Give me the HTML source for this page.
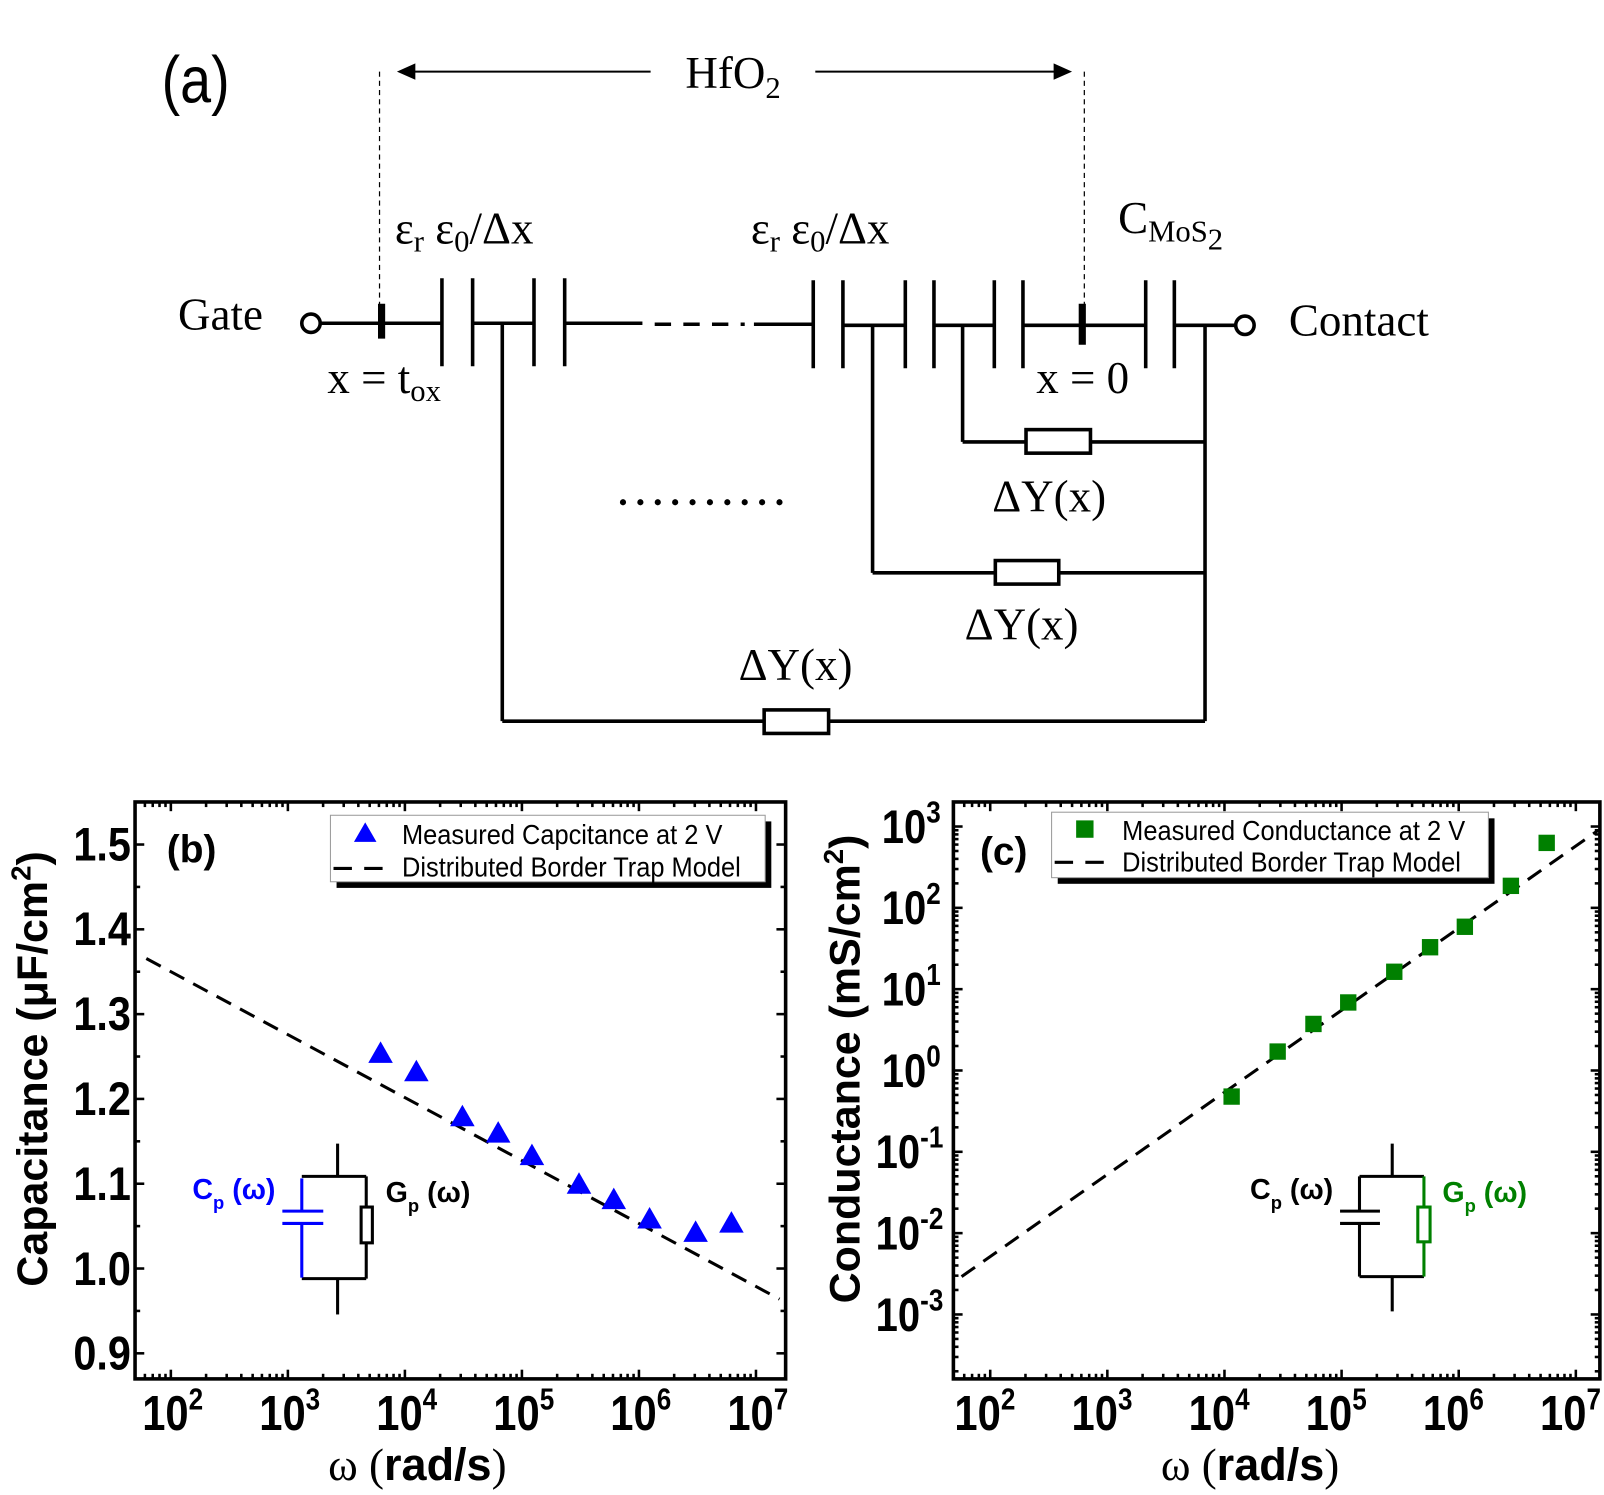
<!DOCTYPE html>
<html><head><meta charset="utf-8"><style>
html,body{margin:0;padding:0;background:#fff;}
svg{display:block;}
.serif{font-family:"Liberation Serif",serif;}
.sans{font-family:"Liberation Sans",sans-serif;}
</style></head><body>
<svg id="s" width="1604" height="1495" viewBox="0 0 1568 1461.5" xmlns="http://www.w3.org/2000/svg">
<rect width="1568" height="1462" fill="#fff"/>
<!-- Panel (a) -->
<text transform="translate(158,100) scale(0.85,1)" class="sans" font-size="64">(a)</text>
<g stroke="#000" fill="none">
<line x1="371" y1="70" x2="371" y2="298" stroke-width="1.2" stroke-dasharray="5,4"/>
<line x1="1060" y1="70" x2="1060" y2="300" stroke-width="1.2" stroke-dasharray="5,4"/>
<line x1="395" y1="70" x2="636" y2="70" stroke-width="2"/>
<line x1="797" y1="70" x2="1040" y2="70" stroke-width="2"/>
</g>
<polygon points="388,70 406,62 406,78" fill="#000"/>
<polygon points="1048,70 1030,62 1030,78" fill="#000"/>
<text x="670" y="86" class="serif" font-size="44">HfO<tspan font-size="30" dy="10">2</tspan></text>

<g stroke="#000" stroke-width="3.5" fill="none">
<circle cx="304" cy="316" r="9"/>
<circle cx="1217" cy="318" r="9"/>
<line x1="313" y1="316" x2="432" y2="316"/>
<line x1="373" y1="297" x2="373" y2="331" stroke-width="7"/>
<line x1="432" y1="272" x2="432" y2="358"/><line x1="462" y1="272" x2="462" y2="358"/>
<line x1="462" y1="316" x2="522" y2="316"/>
<line x1="522" y1="272" x2="522" y2="358"/><line x1="552" y1="272" x2="552" y2="358"/>
<line x1="552" y1="316" x2="628" y2="316"/>
<line x1="640" y1="317" x2="728" y2="317" stroke-dasharray="16,12"/>
<line x1="737" y1="317" x2="795" y2="317"/>
<line x1="795" y1="274" x2="795" y2="360"/><line x1="824" y1="274" x2="824" y2="360"/>
<line x1="824" y1="318" x2="885" y2="318"/>
<line x1="885" y1="274" x2="885" y2="360"/><line x1="913" y1="274" x2="913" y2="360"/>
<line x1="913" y1="318" x2="972" y2="318"/>
<line x1="972" y1="274" x2="972" y2="360"/><line x1="1000" y1="274" x2="1000" y2="360"/>
<line x1="1000" y1="318" x2="1120" y2="318"/>
<line x1="1058" y1="297" x2="1058" y2="337" stroke-width="7"/>
<line x1="1120" y1="274" x2="1120" y2="360"/><line x1="1148" y1="274" x2="1148" y2="360"/>
<line x1="1148" y1="318" x2="1208" y2="318"/>
<line x1="491" y1="316" x2="491" y2="705"/>
<line x1="853" y1="318" x2="853" y2="560"/>
<line x1="941" y1="318" x2="941" y2="432"/>
<line x1="1178" y1="318" x2="1178" y2="705"/>
<line x1="941" y1="432" x2="1003" y2="432"/><line x1="1066" y1="432" x2="1178" y2="432"/>
<rect x="1003" y="420" width="63" height="23"/>
<line x1="853" y1="560" x2="973" y2="560"/><line x1="1035" y1="560" x2="1178" y2="560"/>
<rect x="973" y="548" width="62" height="23"/>
<line x1="491" y1="705" x2="747" y2="705"/><line x1="810" y1="705" x2="1178" y2="705"/>
<rect x="747" y="694" width="63" height="23"/>
</g>
<g fill="#000">
<circle cx="609" cy="491" r="3"/><circle cx="626" cy="491" r="3"/><circle cx="643" cy="491" r="3"/><circle cx="660" cy="491" r="3"/><circle cx="677" cy="491" r="3"/><circle cx="694" cy="491" r="3"/><circle cx="711" cy="491" r="3"/><circle cx="728" cy="491" r="3"/><circle cx="745" cy="491" r="3"/><circle cx="762" cy="491" r="3"/>
</g>
<g class="serif" font-size="44" fill="#000">
<text x="174" y="322">Gate</text>
<text x="1260" y="328">Contact</text>
<text x="320" y="384">x = t<tspan font-size="30" dy="8">ox</tspan></text>
<text x="1013" y="384">x = 0</text>
<text x="386" y="238">ε<tspan font-size="30" dy="8">r</tspan><tspan dy="-8"> ε</tspan><tspan font-size="30" dy="8">0</tspan><tspan dy="-8">/Δx</tspan></text>
<text x="734" y="238">ε<tspan font-size="30" dy="8">r</tspan><tspan dy="-8"> ε</tspan><tspan font-size="30" dy="8">0</tspan><tspan dy="-8">/Δx</tspan></text>
<text x="1093" y="228">C<tspan font-size="30" dy="8">MoS</tspan><tspan font-size="30" dy="8">2</tspan></text>
<text x="970" y="500">ΔY(x)</text>
<text x="943" y="625">ΔY(x)</text>
<text x="722" y="665">ΔY(x)</text>
</g>

<!-- Panel b -->
<g id="pb"></g>
<rect x="132" y="784" width="636" height="564" fill="none" stroke="#000" stroke-width="3.5"/>
<line x1="143" y1="937" x2="762" y2="1270" stroke="#000" stroke-width="3" stroke-dasharray="16,10"/>
<g fill="#0000ff" id="tri"></g>
<text x="163" y="843" class="sans" font-size="38" font-weight="bold">(b)</text>
<rect x="329" y="803" width="425" height="65" fill="#000"/>
<rect x="323" y="797" width="425" height="65" fill="#fff" stroke="#999" stroke-width="1"/>
<polygon points="357,804 346,823 368,823" fill="#0000ff"/>
<line x1="326" y1="849" x2="380" y2="849" stroke="#000" stroke-width="3" stroke-dasharray="18,12"/>
<text transform="translate(393,825) scale(0.92,1)" class="sans" font-size="27">Measured Capcitance at 2 V</text>
<text transform="translate(393,857) scale(0.92,1)" class="sans" font-size="27">Distributed Border Trap Model</text>
<g class="sans" font-size="46" font-weight="bold" text-anchor="end">
<text transform="translate(128,1339) scale(0.88,1)">0.9</text><text transform="translate(128,1256) scale(0.88,1)">1.0</text><text transform="translate(128,1173) scale(0.88,1)">1.1</text><text transform="translate(128,1090) scale(0.88,1)">1.2</text><text transform="translate(128,1007) scale(0.88,1)">1.3</text><text transform="translate(128,924) scale(0.88,1)">1.4</text><text transform="translate(128,841) scale(0.88,1)">1.5</text>
</g>
<text transform="translate(46,1045) rotate(-90)" text-anchor="middle" class="sans" font-size="42" font-weight="bold">Capacitance (μF/cm<tspan font-size="27" dy="-16">2</tspan><tspan dy="16">)</tspan></text>
<g id="xlb" class="sans" font-size="48" font-weight="bold"></g>
<text x="408" y="1447" text-anchor="middle" font-size="44" font-weight="bold"><tspan class="serif" font-weight="normal">ω (</tspan><tspan class="sans">rad/s</tspan><tspan class="serif" font-weight="normal">)</tspan></text>
<!-- inset b -->
<g stroke="#000" stroke-width="3" fill="none">
<line x1="330" y1="1118" x2="330" y2="1150"/><line x1="295" y1="1150" x2="358" y2="1150"/>
<line x1="358" y1="1150" x2="358" y2="1180"/><rect x="353" y="1180" width="11" height="35"/><line x1="358" y1="1215" x2="358" y2="1250"/>
<line x1="295" y1="1250" x2="358" y2="1250"/><line x1="330" y1="1250" x2="330" y2="1285"/>
</g>
<g stroke="#0000ff" stroke-width="3">
<line x1="295" y1="1152" x2="295" y2="1184"/><line x1="276" y1="1184" x2="316" y2="1184"/><line x1="276" y1="1196" x2="316" y2="1196"/><line x1="295" y1="1196" x2="295" y2="1249"/>
</g>
<text x="188" y="1172" class="sans" font-size="28" font-weight="bold" fill="#0000ff">C<tspan font-size="18" dy="10">p</tspan><tspan dy="-10"> (ω)</tspan></text>
<text x="377" y="1175" class="sans" font-size="28" font-weight="bold" fill="#000">G<tspan font-size="18" dy="10">p</tspan><tspan dy="-10"> (ω)</tspan></text>

<!-- Panel c -->
<g id="pc"></g>
<rect x="932" y="784" width="632" height="564" fill="none" stroke="#000" stroke-width="3.5"/>
<line x1="940" y1="1248" x2="1562" y2="812" stroke="#000" stroke-width="3" stroke-dasharray="16,10"/>
<g fill="#008000" id="sq"></g>
<text x="958" y="845" class="sans" font-size="38" font-weight="bold">(c)</text>
<rect x="1034" y="800" width="427" height="64" fill="#000"/>
<rect x="1028" y="794" width="427" height="64" fill="#fff" stroke="#999" stroke-width="1"/>
<rect x="1052" y="802" width="17" height="17" fill="#008000"/>
<line x1="1031" y1="843" x2="1085" y2="843" stroke="#000" stroke-width="3" stroke-dasharray="18,12"/>
<text transform="translate(1097,821) scale(0.92,1)" class="sans" font-size="27">Measured Conductance at 2 V</text>
<text transform="translate(1097,852) scale(0.92,1)" class="sans" font-size="27">Distributed Border Trap Model</text>
<g class="sans" font-size="46" font-weight="bold" id="ylc"></g>
<text transform="translate(840,1045) rotate(-90)" text-anchor="middle" class="sans" font-size="42" font-weight="bold">Conductance (mS/cm<tspan font-size="27" dy="-16">2</tspan><tspan dy="16">)</tspan></text>
<text x="1222" y="1447" text-anchor="middle" font-size="44" font-weight="bold"><tspan class="serif" font-weight="normal">ω (</tspan><tspan class="sans">rad/s</tspan><tspan class="serif" font-weight="normal">)</tspan></text>
<!-- inset c -->
<g stroke="#000" stroke-width="3" fill="none">
<line x1="1361" y1="1118" x2="1361" y2="1150"/><line x1="1329" y1="1150" x2="1392" y2="1150"/>
<line x1="1329" y1="1150" x2="1329" y2="1184"/><line x1="1310" y1="1184" x2="1349" y2="1184"/><line x1="1310" y1="1196" x2="1349" y2="1196"/><line x1="1329" y1="1196" x2="1329" y2="1248"/>
<line x1="1329" y1="1248" x2="1392" y2="1248"/><line x1="1361" y1="1248" x2="1361" y2="1282"/>
</g>
<g stroke="#008000" stroke-width="3" fill="none">
<line x1="1392" y1="1150" x2="1392" y2="1180"/><rect x="1386" y="1180" width="12" height="34"/><line x1="1392" y1="1214" x2="1392" y2="1248"/>
</g>
<text x="1222" y="1172" class="sans" font-size="28" font-weight="bold" fill="#000">C<tspan font-size="18" dy="10">p</tspan><tspan dy="-10"> (ω)</tspan></text>
<text x="1410" y="1175" class="sans" font-size="28" font-weight="bold" fill="#008000">G<tspan font-size="18" dy="10">p</tspan><tspan dy="-10"> (ω)</tspan></text>
</svg>
<script>
var NS="http://www.w3.org/2000/svg";
function el(p,t,a,txt){var e=document.createElementNS(NS,t);for(var k in a)e.setAttribute(k,a[k]);if(txt!=null)e.textContent=txt;document.getElementById(p).appendChild(e);return e;}
function ln(p,x1,y1,x2,y2,w){el(p,"line",{x1:x1,y1:y1,x2:x2,y2:y2,stroke:"#000","stroke-width":w||2.5});}
function xticks(p,L,R,T,B,x2,dec){
 for(var d=1;d<=7;d++){for(var k=1;k<10;k++){var x=x2+(d-2+Math.log10(k))*dec;if(x<=L+2||x>=R-2)continue;var h=k==1?9:5;ln(p,x,B,x,B-h);ln(p,x,T,x,T+h);}}
}
function sup(t,d,fs,dy){var s=document.createElementNS(NS,"tspan");s.setAttribute("font-size",fs);s.setAttribute("dy",dy);s.textContent=d;t.appendChild(s);}
// panel b
xticks("pb",132,768,784,1348,167,114.4);
for(var v=0;v<=14;v++){var y=1323-v*41.45;if(y<=786)break;var h=v%2==0?9:5;ln("pb",132,y,132+h,y);ln("pb",768,y,768-h,y);}
var xb=[372,407,452,487,520,566,600,635,680,715],yb=[1030,1048,1092,1108,1130,1158,1173,1192,1205,1196];
for(var i=0;i<xb.length;i++){el("tri","polygon",{points:(xb[i])+","+(yb[i]-12)+" "+(xb[i]-12)+","+(yb[i]+9)+" "+(xb[i]+12)+","+(yb[i]+9)});}
function xlabels(x2,dec,off){for(var d=2;d<=7;d++){var t=el("xlb","text",{transform:"translate("+(x2+(d-2)*dec-off)+",1398) scale(0.85,1)"},"10");sup(t,d,"30","-20");}}
xlabels(167,114.4,28);xlabels(968,114.5,35);
// panel c
xticks("pc",932,1564,784,1348,968,114.5);
for(var d=-4;d<=3;d++){for(var k=1;k<10;k++){var y=808-(d-3+Math.log10(k))*79.5;if(y<=786||y>=1346)continue;var h=k==1?9:5;ln("pc",932,y,932+h,y);ln("pc",1564,y,1564-h,y);}}
for(var d=3;d>=-3;d--){var y=808+(3-d)*79.5;var x=(d<0)?856:862;var t=el("ylc","text",{transform:"translate("+x+","+(y+16)+") scale(0.85,1)"},"10");sup(t,d,"30","-20");}
var xc=[1204,1249,1284,1318,1363,1398,1432,1477,1512],yc=[1072,1028,1001,980,950,926,906,866,824];
for(var i=0;i<xc.length;i++){el("sq","rect",{x:xc[i]-8,y:yc[i]-8,width:16,height:16});}
</script>
</body></html>
